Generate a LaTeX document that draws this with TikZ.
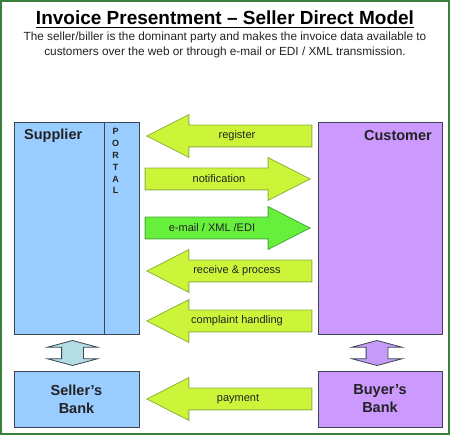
\documentclass[tikz,border=0pt]{standalone}
\usepackage{fontspec}
\setmainfont{Liberation Sans}
\usetikzlibrary{shapes.arrows}
\pgfdeclarelayer{edgelayer}
\pgfdeclarelayer{nodelayer}
\pgfsetlayers{edgelayer,nodelayer,main}
\definecolor{boxline}{HTML}{3A4654}
\definecolor{supblue}{HTML}{99CCFF}
\definecolor{cuspurple}{HTML}{CC99FF}
\definecolor{arrowfill}{HTML}{CCF53A}
\definecolor{arrowline}{HTML}{8DB33A}
\definecolor{mailfill}{HTML}{66F03C}
\definecolor{mailline}{HTML}{4AA83A}
\definecolor{framegreen}{HTML}{3A7F3A}
\definecolor{bankcyan}{HTML}{B4DEE4}
\definecolor{bankpurple}{HTML}{C59CF7}
\definecolor{textgray}{HTML}{222222}
\tikzset{font=\fontsize{10}{12}\selectfont}
\tikzstyle{none}=[inner sep=0pt]
\tikzstyle{party}=[rectangle,draw=boxline,line width=0.9pt,inner sep=0pt]
\tikzstyle{partyname}=[inner sep=0pt,align=center,text=textgray,font=\fontsize{14.5}{18}\selectfont\bfseries]
\tikzstyle{flowarrow}=[single arrow,inner xsep=0pt,inner ysep=10.5pt,minimum height=165pt,single arrow head extend=10.5pt,single arrow tip angle=54,fill=arrowfill,draw=arrowline,line width=0.8pt]
\tikzstyle{backarrow}=[flowarrow,shape border rotate=180]
\tikzstyle{mailarrow}=[flowarrow,fill=mailfill,draw=mailline]
\tikzstyle{flowtext}=[inner sep=0pt,text=textgray,font=\fontsize{11}{12}\selectfont]
\tikzstyle{bankarrow}=[double arrow,inner xsep=10.5pt,inner ysep=0pt,shape border rotate=90,minimum height=25pt,double arrow head extend=14pt,double arrow tip angle=150,draw=boxline,line width=0.8pt]

\begin{document}
\begin{tikzpicture}[x=1pt,y=-1pt]
	\useasboundingbox (0,0) rectangle (450,435);
	\begin{pgfonlayer}{edgelayer}
		\draw[framegreen,line width=1.6pt] (1,1) rectangle (449,434);
	\end{pgfonlayer}
	\begin{pgfonlayer}{nodelayer}
		\node [style=none,font=\fontsize{19}{22}\selectfont\bfseries] (0) at (225,18) {Invoice Presentment -- Seller Direct Model};
		\node [style=none,align=center,text=textgray,font=\fontsize{11.8}{15}\selectfont] (1) at (225,45) {The seller/biller is the dominant party and makes the invoice data available to\\customers over the web or through e-mail or EDI / XML transmission.};
		\node [style=party,fill=supblue,minimum width=125pt,minimum height=212pt] (2) at (76.5,228) {};
		\node [style=none,anchor=north,align=center,text=textgray,font=\fontsize{9}{11.8}\selectfont\bfseries] (3) at (115.5,128.5) {P\\O\\R\\T\\A\\L};
		\node [style=partyname,anchor=west] (4) at (24,136) {Supplier};
		\node [style=party,fill=cuspurple,minimum width=124pt,minimum height=212pt] (5) at (380,228) {};
		\node [style=partyname,anchor=east] (6) at (432,136) {Customer};
		\node [style=party,fill=supblue,minimum width=125pt,minimum height=56pt] (7) at (76.5,399) {};
		\node [style=partyname] at (7.center) {Seller's\\Bank};
		\node [style=party,fill=cuspurple,minimum width=124pt,minimum height=56pt] (8) at (380,399) {};
		\node [style=partyname] at (8.center) {Buyer's\\Bank};
		\node [style=backarrow,anchor=tip] (9) at (146,136) {};
		\node [style=flowarrow,anchor=tip] (10) at (311,179) {};
		\node [style=mailarrow,anchor=tip] (11) at (311,228) {};
		\node [style=backarrow,anchor=tip] (12) at (146,271) {};
		\node [style=backarrow,anchor=tip] (13) at (146,321) {};
		\node [style=backarrow,anchor=tip] (14) at (146,399) {};
		\node [style=flowtext] (15) at (237,136) {register};
		\node [style=flowtext] (16) at (219,179) {notification};
		\node [style=flowtext] (17) at (212,228) {e-mail / XML /EDI};
		\node [style=flowtext] (18) at (237,271) {receive \& process};
		\node [style=flowtext] (19) at (237,321) {complaint handling};
		\node [style=flowtext] (20) at (238,399) {payment};
		\node [style=bankarrow,fill=bankcyan] (21) at (72.5,353) {};
		\node [style=bankarrow,fill=bankpurple] (22) at (377,353) {};
		\node [style=none] (23) at (104,122) {};
		\node [style=none] (24) at (104,334) {};
	\end{pgfonlayer}
	\draw[boxline,line width=0.9pt] (23.center) to (24.center);
	\draw[line width=1.4pt] ([yshift=-2.5pt]0.base west) to ([yshift=-2.5pt]0.base east);
\end{tikzpicture}
\end{document}
